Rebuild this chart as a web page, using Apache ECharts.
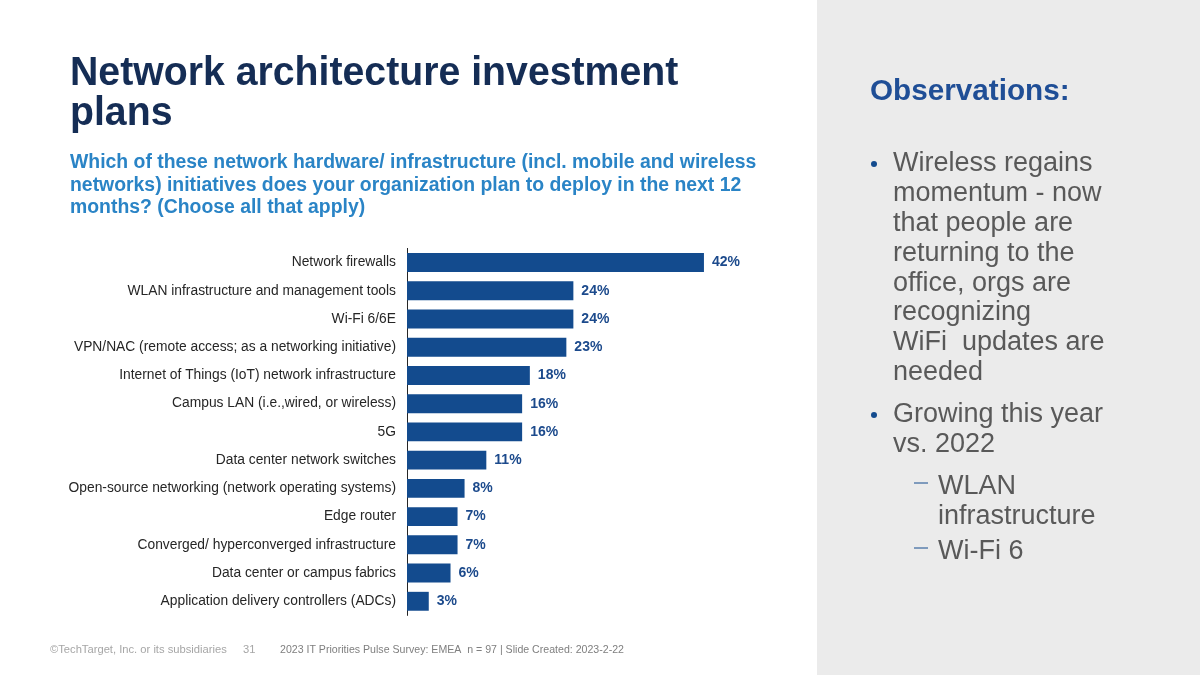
<!DOCTYPE html>
<html>
<head>
<meta charset="utf-8">
<script src="https://cdn.jsdelivr.net/npm/echarts@6/dist/echarts.min.js"></script>
<style>
  html, body { margin: 0; padding: 0; background: #fff; }
  #chart { width: 1200px; height: 675px; }
</style>
</head>
<body>
<div id="chart"></div>
<script>
// survey answers, top to bottom
const categories = [
  'Network firewalls',
  'WLAN infrastructure and management tools',
  'Wi-Fi 6/6E',
  'VPN/NAC (remote access; as a networking initiative)',
  'Internet of Things (IoT) network infrastructure',
  'Campus LAN (i.e.,wired, or wireless)',
  '5G',
  'Data center network switches',
  'Open-source networking (network operating systems)',
  'Edge router',
  'Converged/ hyperconverged infrastructure',
  'Data center or campus fabrics',
  'Application delivery controllers (ADCs)'
]
// share of respondents, %
const values = [42.3, 23.7, 23.7, 22.7, 17.5, 16.4, 16.4, 11.3, 8.2, 7.2, 7.2, 6.2, 3.1]

const titleLines = ['Network architecture investment', 'plans']
const questionLines = [
  'Which of these network hardware/ infrastructure (incl. mobile and wireless',
  'networks) initiatives does your organization plan to deploy in the next 12',
  'months? (Choose all that apply)'
]
const bullet1 = ['Wireless regains', 'momentum - now', 'that people are', 'returning to the',
  'office, orgs are', 'recognizing', 'WiFi  updates are', 'needed']
const bullet2 = ['Growing this year', 'vs. 2022']
const subBullets = [['WLAN', 'infrastructure'], ['Wi-Fi 6']]

const FONT = '"Liberation Sans", Arial, sans-serif'
const barColor = '#134b8e'

const chart = echarts.init(document.getElementById('chart'))

// text blocks around the chart
const graphics = [
  { type: 'rect', shape: { x: 817, y: 0, width: 383, height: 675 }, style: { fill: '#ebebeb' }, silent: true }
]
titleLines.forEach((t, i) => {
  graphics.push({ type: 'text', x: 70, y: 74 + i * 40, scaleX: 0.957,
    style: { text: t, font: 'bold 41px ' + FONT, fill: '#152d55', textVerticalAlign: 'middle' } })
})
questionLines.forEach((t, i) => {
  graphics.push({ type: 'text', x: 70, y: 163 + i * 22.5,
    style: { text: t, font: 'bold 19.4px ' + FONT, fill: '#2a84c6', textVerticalAlign: 'middle' } })
})
graphics.push({ type: 'text', x: 870, y: 92, style: { text: 'Observations:', font: 'bold 29.7px ' + FONT, fill: '#1f4e96', textVerticalAlign: 'middle' } })

function bulletBlock(lines, y0) {
  graphics.push({ type: 'circle', shape: { cx: 874, cy: y0, r: 3 }, style: { fill: '#134b8e' } })
  lines.forEach((t, i) => {
    graphics.push({ type: 'text', x: 893, y: y0 + i * 29.8, style: { text: t, font: '27px ' + FONT, fill: '#595959', textVerticalAlign: 'middle' } })
  })
}
bulletBlock(bullet1, 164)
bulletBlock(bullet2, 415)

const subY = [487, 552]
subBullets.forEach((lines, k) => {
  graphics.push({ type: 'line', shape: { x1: 914, y1: subY[k] - 4, x2: 928, y2: subY[k] - 4 }, style: { stroke: '#134b8e', lineWidth: 1 } })
  lines.forEach((t, i) => {
    graphics.push({ type: 'text', x: 938, y: subY[k] + i * 29.8, style: { text: t, font: '27px ' + FONT, fill: '#595959', textVerticalAlign: 'middle' } })
  })
})

graphics.push({ type: 'text', x: 50, y: 650, style: { text: '©TechTarget, Inc. or its subsidiaries', font: '11.2px ' + FONT, fill: '#a6a6a6', textVerticalAlign: 'middle' } })
graphics.push({ type: 'text', x: 243, y: 650, style: { text: '31', font: '11.2px ' + FONT, fill: '#a6a6a6', textVerticalAlign: 'middle' } })
graphics.push({ type: 'text', x: 280, y: 650, style: { text: '2023 IT Priorities Pulse Survey: EMEA  n = 97 | Slide Created: 2023-2-22', font: '10.6px ' + FONT, fill: '#7f7f7f', textVerticalAlign: 'middle' } })

const option = {
  animation: false,
  backgroundColor: '#ffffff',
  textStyle: { fontFamily: FONT },
  graphic: graphics,
  grid: {
    left: 407,
    top: 248.4,
    width: 351,
    height: 367,
    containLabel: false
  },
  xAxis: {
    type: 'value',
    min: 0,
    max: 50,
    show: false
  },
  yAxis: {
    type: 'category',
    data: categories,
    inverse: true,
    axisLine: { show: true, lineStyle: { color: '#262626', width: 1 } },
    axisTick: { show: false },
    axisLabel: { color: '#262626', fontSize: 13.8, margin: 11, fontFamily: FONT }
  },
  series: [{
    type: 'bar',
    data: values,
    barCategoryGap: '33%',
    itemStyle: { color: barColor },
    label: {
      show: true,
      position: 'right',
      distance: 8,
      formatter: p => Math.round(p.value) + '%',
      color: '#1c4a8c',
      fontWeight: 'bold',
      fontSize: 14,
      fontFamily: FONT
    }
  }]
}

chart.setOption(option)
</script>
</body>
</html>
